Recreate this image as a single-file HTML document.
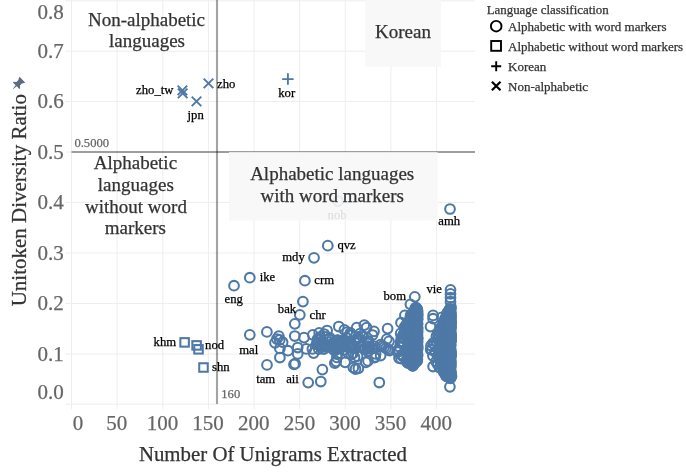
<!DOCTYPE html>
<html lang="en"><head><meta charset="utf-8"><title>Unitoken Diversity Ratio vs Number Of Unigrams Extracted</title>
<style>html,body{margin:0;padding:0;background:#fff}body{width:686px;height:473px;overflow:hidden}svg{display:block}text{font-family:"Liberation Serif","Times New Roman",serif;stroke-width:0.25px}.lb{stroke:#000}.lg,.an,.ti{stroke:#333}.tk,.rf{stroke:#666}.tk{font-size:21px;fill:#666}.ti{font-size:20.9px;fill:#333}.an{font-size:19px;fill:#333;text-anchor:middle}.lb{font-size:12.7px;fill:#000}.lg{font-size:12.9px;fill:#333}.rf{font-size:12.6px;fill:#666}.g line{stroke:#eee;stroke-width:1}.m{fill:none;stroke:#4e79a7;stroke-width:2.05}</style></head><body>
<svg width="686" height="473" viewBox="0 0 686 473">
<rect width="686" height="473" fill="#fff"/>
<g class="g">
<line x1="71.5" y1="0" x2="71.5" y2="409"/>
<line x1="117.1" y1="0" x2="117.1" y2="409"/>
<line x1="162.8" y1="0" x2="162.8" y2="409"/>
<line x1="208.4" y1="0" x2="208.4" y2="409"/>
<line x1="254.0" y1="0" x2="254.0" y2="409"/>
<line x1="299.7" y1="0" x2="299.7" y2="409"/>
<line x1="345.3" y1="0" x2="345.3" y2="409"/>
<line x1="390.9" y1="0" x2="390.9" y2="409"/>
<line x1="436.6" y1="0" x2="436.6" y2="409"/>
<line x1="65.5" y1="0.8" x2="475" y2="0.8"/>
<line x1="65.5" y1="51.2" x2="475" y2="51.2"/>
<line x1="65.5" y1="101.5" x2="475" y2="101.5"/>
<line x1="65.5" y1="152.0" x2="475" y2="152.0"/>
<line x1="65.5" y1="202.4" x2="475" y2="202.4"/>
<line x1="65.5" y1="253.0" x2="475" y2="253.0"/>
<line x1="65.5" y1="303.5" x2="475" y2="303.5"/>
<line x1="65.5" y1="354.1" x2="475" y2="354.1"/>
<line x1="65.5" y1="404.2" x2="475" y2="404.2"/>
</g>
<line x1="217" y1="0" x2="217" y2="404" stroke="#000" stroke-opacity="0.36" stroke-width="2.1"/>
<line x1="71.5" y1="152" x2="475" y2="152" stroke="#000" stroke-opacity="0.36" stroke-width="2"/>
<circle class="m" cx="338" cy="201.1" r="4.85"/>
<text class="lb" x="327.6" y="218.9">nob</text>
<rect x="365.1" y="0" width="75.9" height="66.7" fill="#f7f7f7" fill-opacity="0.9"/>
<rect x="229" y="152.1" width="208.6" height="68.5" fill="#f7f7f7" fill-opacity="0.9"/>
<text class="an" x="146.5" y="25.7">Non-alphabetic</text>
<text class="an" x="147" y="47.3">languages</text>
<text class="an" x="403" y="38.3">Korean</text>
<text class="an" x="332.2" y="179.6">Alphabetic languages</text>
<text class="an" x="332.2" y="201.8">with word markers</text>
<text class="an" x="135.4" y="168.8">Alphabetic</text>
<text class="an" x="135.8" y="190.5">languages</text>
<text class="an" x="136" y="212.5">without word</text>
<text class="an" x="135.4" y="234.4">markers</text>
<text class="rf" x="74.4" y="146.5">0.5000</text>
<text class="rf" x="221.3" y="398.4">160</text>
<g class="m">
<circle cx="234.0" cy="285.7" r="4.85"/>
<circle cx="249.8" cy="277.7" r="4.85"/>
<circle cx="314.0" cy="257.8" r="4.85"/>
<circle cx="327.8" cy="245.7" r="4.85"/>
<circle cx="304.9" cy="280.7" r="4.85"/>
<circle cx="302.9" cy="301.6" r="4.85"/>
<circle cx="299.8" cy="314.8" r="4.85"/>
<circle cx="294.8" cy="323.8" r="4.85"/>
<circle cx="249.8" cy="334.8" r="4.85"/>
<circle cx="266.9" cy="331.9" r="4.85"/>
<circle cx="294.8" cy="336.0" r="4.85"/>
<circle cx="304.0" cy="337.6" r="4.85"/>
<circle cx="278.8" cy="336.1" r="4.85"/>
<circle cx="276.9" cy="339.0" r="4.85"/>
<circle cx="279.7" cy="339.9" r="4.85"/>
<circle cx="275.0" cy="342.8" r="4.85"/>
<circle cx="282.6" cy="342.2" r="4.85"/>
<circle cx="279.9" cy="348.4" r="4.85"/>
<circle cx="288.0" cy="350.7" r="4.85"/>
<circle cx="297.7" cy="347.5" r="4.85"/>
<circle cx="297.7" cy="353.9" r="4.85"/>
<circle cx="279.9" cy="357.5" r="4.85"/>
<circle cx="306.3" cy="348.9" r="4.85"/>
<circle cx="312.4" cy="348.9" r="4.85"/>
<circle cx="267.0" cy="364.9" r="4.85"/>
<circle cx="294.0" cy="364.4" r="4.85"/>
<circle cx="295.1" cy="363.7" r="4.85"/>
<circle cx="308.2" cy="382.6" r="4.85"/>
<circle cx="320.8" cy="381.5" r="4.85"/>
<circle cx="322.4" cy="369.6" r="4.85"/>
<circle cx="379.3" cy="382.5" r="4.85"/>
<circle cx="450.0" cy="209.0" r="4.85"/>
<circle cx="338.8" cy="326.5" r="4.85"/>
<circle cx="356.7" cy="327.6" r="4.85"/>
<circle cx="364.3" cy="325.1" r="4.85"/>
<circle cx="366.6" cy="327.6" r="4.85"/>
<circle cx="374.0" cy="331.3" r="4.85"/>
<circle cx="327.1" cy="330.5" r="4.85"/>
<circle cx="319.2" cy="332.8" r="4.85"/>
<circle cx="312.8" cy="334.8" r="4.85"/>
<circle cx="344.4" cy="329.8" r="4.85"/>
<circle cx="347.3" cy="332.0" r="4.85"/>
<circle cx="358.4" cy="337.2" r="4.85"/>
<circle cx="372.5" cy="335.0" r="4.85"/>
<circle cx="334.8" cy="363.1" r="4.85"/>
<circle cx="336.2" cy="361.6" r="4.85"/>
<circle cx="345.1" cy="362.3" r="4.85"/>
<circle cx="353.3" cy="367.5" r="4.85"/>
<circle cx="355.5" cy="369.0" r="4.85"/>
<circle cx="358.4" cy="368.3" r="4.85"/>
<circle cx="380.6" cy="355.6" r="4.85"/>
<circle cx="365.8" cy="362.3" r="4.85"/>
<circle cx="368.0" cy="360.9" r="4.85"/>
<circle cx="313.6" cy="353.1" r="4.85"/>
<circle cx="380.6" cy="344.6" r="4.85"/>
<circle cx="382.4" cy="345.8" r="4.85"/>
<circle cx="384.2" cy="347.0" r="4.85"/>
<circle cx="386.0" cy="348.2" r="4.85"/>
<circle cx="387.8" cy="349.4" r="4.85"/>
<circle cx="389.5" cy="350.5" r="4.85"/>
<circle cx="386.8" cy="339.1" r="4.85"/>
<circle cx="389.0" cy="341.3" r="4.85"/>
<circle cx="414.8" cy="296.8" r="4.85"/>
<circle cx="410.4" cy="304.3" r="4.85"/>
<circle cx="404.9" cy="315.4" r="4.85"/>
<circle cx="401.0" cy="322.7" r="4.85"/>
<circle cx="387.6" cy="328.6" r="4.85"/>
<circle cx="450.5" cy="289.8" r="4.85"/>
<circle cx="450.5" cy="293.8" r="4.85"/>
<circle cx="450.5" cy="297.7" r="4.85"/>
<circle cx="450.5" cy="301.7" r="4.85"/>
<circle cx="433.1" cy="315.4" r="4.85"/>
<circle cx="433.1" cy="318.7" r="4.85"/>
<circle cx="430.5" cy="326.6" r="4.85"/>
<circle cx="441.7" cy="317.4" r="4.85"/>
<circle cx="449.9" cy="386.8" r="4.85"/>
<circle cx="445.6" cy="375.0" r="4.85"/>
<circle cx="451.5" cy="376.3" r="4.85"/>
<circle cx="433.1" cy="366.5" r="4.85"/>
<circle cx="412.8" cy="365.8" r="4.85"/>
<circle cx="412.8" cy="363.2" r="4.85"/>
<circle cx="399.0" cy="358.0" r="4.85"/>
<circle cx="401.0" cy="358.6" r="4.85"/>
<circle cx="334.8" cy="350.6" r="4.85"/>
<circle cx="347.7" cy="343.5" r="4.85"/>
<circle cx="346.0" cy="346.7" r="4.85"/>
<circle cx="317.3" cy="342.7" r="4.85"/>
<circle cx="320.5" cy="346.0" r="4.85"/>
<circle cx="340.9" cy="346.6" r="4.85"/>
<circle cx="328.6" cy="342.0" r="4.85"/>
<circle cx="353.3" cy="353.2" r="4.85"/>
<circle cx="339.2" cy="342.2" r="4.85"/>
<circle cx="374.6" cy="357.5" r="4.85"/>
<circle cx="332.7" cy="348.8" r="4.85"/>
<circle cx="323.8" cy="349.2" r="4.85"/>
<circle cx="364.8" cy="348.8" r="4.85"/>
<circle cx="326.0" cy="336.8" r="4.85"/>
<circle cx="337.7" cy="340.4" r="4.85"/>
<circle cx="348.4" cy="347.1" r="4.85"/>
<circle cx="327.6" cy="345.9" r="4.85"/>
<circle cx="356.5" cy="339.9" r="4.85"/>
<circle cx="350.7" cy="347.5" r="4.85"/>
<circle cx="342.6" cy="341.4" r="4.85"/>
<circle cx="357.6" cy="356.2" r="4.85"/>
<circle cx="329.9" cy="337.8" r="4.85"/>
<circle cx="368.4" cy="341.4" r="4.85"/>
<circle cx="359.5" cy="340.6" r="4.85"/>
<circle cx="340.5" cy="345.2" r="4.85"/>
<circle cx="344.8" cy="341.2" r="4.85"/>
<circle cx="317.4" cy="339.5" r="4.85"/>
<circle cx="350.0" cy="335.2" r="4.85"/>
<circle cx="368.4" cy="341.0" r="4.85"/>
<circle cx="351.3" cy="354.4" r="4.85"/>
<circle cx="350.4" cy="332.8" r="4.85"/>
<circle cx="372.6" cy="348.4" r="4.85"/>
<circle cx="343.9" cy="343.8" r="4.85"/>
<circle cx="357.8" cy="343.0" r="4.85"/>
<circle cx="354.5" cy="357.2" r="4.85"/>
<circle cx="332.4" cy="344.5" r="4.85"/>
<circle cx="338.5" cy="344.3" r="4.85"/>
<circle cx="343.2" cy="343.8" r="4.85"/>
<circle cx="325.3" cy="346.7" r="4.85"/>
<circle cx="361.9" cy="346.5" r="4.85"/>
<circle cx="322.9" cy="345.1" r="4.85"/>
<circle cx="368.2" cy="351.6" r="4.85"/>
<circle cx="319.9" cy="337.1" r="4.85"/>
<circle cx="368.9" cy="347.6" r="4.85"/>
<circle cx="365.0" cy="348.5" r="4.85"/>
<circle cx="340.3" cy="341.0" r="4.85"/>
<circle cx="336.9" cy="357.4" r="4.85"/>
<circle cx="324.2" cy="334.0" r="4.85"/>
<circle cx="325.7" cy="345.5" r="4.85"/>
<circle cx="344.6" cy="349.8" r="4.85"/>
<circle cx="350.9" cy="345.0" r="4.85"/>
<circle cx="340.6" cy="345.6" r="4.85"/>
<circle cx="357.1" cy="338.4" r="4.85"/>
<circle cx="346.4" cy="337.7" r="4.85"/>
<circle cx="318.3" cy="338.3" r="4.85"/>
<circle cx="369.9" cy="347.5" r="4.85"/>
<circle cx="338.9" cy="342.5" r="4.85"/>
<circle cx="353.7" cy="346.8" r="4.85"/>
<circle cx="318.8" cy="349.1" r="4.85"/>
<circle cx="324.9" cy="346.9" r="4.85"/>
<circle cx="335.7" cy="345.1" r="4.85"/>
<circle cx="324.2" cy="345.0" r="4.85"/>
<circle cx="321.2" cy="344.0" r="4.85"/>
<circle cx="368.3" cy="346.1" r="4.85"/>
<circle cx="352.5" cy="348.0" r="4.85"/>
<circle cx="336.2" cy="349.0" r="4.85"/>
<circle cx="337.2" cy="354.2" r="4.85"/>
<circle cx="375.6" cy="353.9" r="4.85"/>
<circle cx="343.4" cy="342.2" r="4.85"/>
<circle cx="321.2" cy="345.3" r="4.85"/>
<circle cx="335.9" cy="343.9" r="4.85"/>
<circle cx="323.9" cy="342.5" r="4.85"/>
<circle cx="348.1" cy="353.0" r="4.85"/>
<circle cx="374.7" cy="346.4" r="4.85"/>
<circle cx="367.7" cy="343.3" r="4.85"/>
<circle cx="337.4" cy="340.2" r="4.85"/>
<circle cx="325.2" cy="346.1" r="4.85"/>
<circle cx="362.5" cy="336.9" r="4.85"/>
<circle cx="335.1" cy="347.0" r="4.85"/>
<circle cx="375.1" cy="356.9" r="4.85"/>
<circle cx="367.0" cy="349.2" r="4.85"/>
<circle cx="360.1" cy="333.6" r="4.85"/>
<circle cx="328.8" cy="338.9" r="4.85"/>
<circle cx="316.8" cy="344.3" r="4.85"/>
<circle cx="316.7" cy="344.1" r="4.85"/>
<circle cx="411.1" cy="364.0" r="4.85"/>
<circle cx="415.5" cy="356.1" r="4.85"/>
<circle cx="410.3" cy="353.4" r="4.85"/>
<circle cx="412.3" cy="331.5" r="4.85"/>
<circle cx="417.0" cy="325.9" r="4.85"/>
<circle cx="416.5" cy="348.3" r="4.85"/>
<circle cx="417.2" cy="343.7" r="4.85"/>
<circle cx="417.0" cy="343.2" r="4.85"/>
<circle cx="413.9" cy="313.4" r="4.85"/>
<circle cx="415.7" cy="323.1" r="4.85"/>
<circle cx="415.9" cy="333.1" r="4.85"/>
<circle cx="408.2" cy="352.3" r="4.85"/>
<circle cx="412.8" cy="333.5" r="4.85"/>
<circle cx="412.5" cy="361.0" r="4.85"/>
<circle cx="415.0" cy="363.1" r="4.85"/>
<circle cx="409.7" cy="333.8" r="4.85"/>
<circle cx="412.9" cy="317.4" r="4.85"/>
<circle cx="408.5" cy="346.6" r="4.85"/>
<circle cx="412.0" cy="336.5" r="4.85"/>
<circle cx="413.8" cy="328.4" r="4.85"/>
<circle cx="414.1" cy="325.7" r="4.85"/>
<circle cx="414.1" cy="347.1" r="4.85"/>
<circle cx="414.3" cy="358.2" r="4.85"/>
<circle cx="400.7" cy="333.3" r="4.85"/>
<circle cx="415.0" cy="325.5" r="4.85"/>
<circle cx="417.3" cy="309.2" r="4.85"/>
<circle cx="415.3" cy="341.7" r="4.85"/>
<circle cx="410.9" cy="346.1" r="4.85"/>
<circle cx="412.3" cy="333.2" r="4.85"/>
<circle cx="417.1" cy="332.6" r="4.85"/>
<circle cx="409.5" cy="342.7" r="4.85"/>
<circle cx="402.9" cy="337.6" r="4.85"/>
<circle cx="411.1" cy="344.9" r="4.85"/>
<circle cx="416.5" cy="313.3" r="4.85"/>
<circle cx="415.2" cy="346.8" r="4.85"/>
<circle cx="415.4" cy="332.1" r="4.85"/>
<circle cx="403.2" cy="356.1" r="4.85"/>
<circle cx="412.3" cy="356.1" r="4.85"/>
<circle cx="417.6" cy="339.1" r="4.85"/>
<circle cx="416.2" cy="316.0" r="4.85"/>
<circle cx="416.7" cy="359.1" r="4.85"/>
<circle cx="408.1" cy="347.9" r="4.85"/>
<circle cx="410.1" cy="318.5" r="4.85"/>
<circle cx="416.1" cy="307.7" r="4.85"/>
<circle cx="417.1" cy="316.7" r="4.85"/>
<circle cx="415.6" cy="332.8" r="4.85"/>
<circle cx="412.3" cy="327.1" r="4.85"/>
<circle cx="414.7" cy="313.7" r="4.85"/>
<circle cx="416.6" cy="356.7" r="4.85"/>
<circle cx="415.4" cy="331.2" r="4.85"/>
<circle cx="406.1" cy="336.5" r="4.85"/>
<circle cx="410.1" cy="319.7" r="4.85"/>
<circle cx="408.8" cy="325.4" r="4.85"/>
<circle cx="415.1" cy="331.3" r="4.85"/>
<circle cx="410.7" cy="327.6" r="4.85"/>
<circle cx="410.6" cy="361.9" r="4.85"/>
<circle cx="412.1" cy="333.3" r="4.85"/>
<circle cx="417.0" cy="320.2" r="4.85"/>
<circle cx="410.5" cy="363.5" r="4.85"/>
<circle cx="416.8" cy="313.1" r="4.85"/>
<circle cx="413.8" cy="354.9" r="4.85"/>
<circle cx="415.9" cy="312.1" r="4.85"/>
<circle cx="413.6" cy="351.1" r="4.85"/>
<circle cx="406.9" cy="362.1" r="4.85"/>
<circle cx="412.8" cy="340.3" r="4.85"/>
<circle cx="411.5" cy="329.4" r="4.85"/>
<circle cx="414.8" cy="329.5" r="4.85"/>
<circle cx="412.9" cy="363.3" r="4.85"/>
<circle cx="409.1" cy="341.2" r="4.85"/>
<circle cx="408.1" cy="342.5" r="4.85"/>
<circle cx="415.1" cy="330.3" r="4.85"/>
<circle cx="404.3" cy="333.3" r="4.85"/>
<circle cx="416.9" cy="312.4" r="4.85"/>
<circle cx="407.4" cy="325.1" r="4.85"/>
<circle cx="413.0" cy="330.2" r="4.85"/>
<circle cx="415.9" cy="313.2" r="4.85"/>
<circle cx="410.8" cy="359.9" r="4.85"/>
<circle cx="417.4" cy="338.3" r="4.85"/>
<circle cx="412.6" cy="329.1" r="4.85"/>
<circle cx="408.9" cy="344.1" r="4.85"/>
<circle cx="415.4" cy="308.0" r="4.85"/>
<circle cx="414.9" cy="352.2" r="4.85"/>
<circle cx="407.7" cy="326.6" r="4.85"/>
<circle cx="397.7" cy="352.0" r="4.85"/>
<circle cx="408.1" cy="363.0" r="4.85"/>
<circle cx="410.0" cy="354.3" r="4.85"/>
<circle cx="415.3" cy="352.2" r="4.85"/>
<circle cx="413.1" cy="334.6" r="4.85"/>
<circle cx="417.2" cy="330.9" r="4.85"/>
<circle cx="411.2" cy="357.3" r="4.85"/>
<circle cx="411.8" cy="337.8" r="4.85"/>
<circle cx="401.0" cy="341.3" r="4.85"/>
<circle cx="415.7" cy="308.8" r="4.85"/>
<circle cx="414.4" cy="354.2" r="4.85"/>
<circle cx="413.9" cy="341.9" r="4.85"/>
<circle cx="411.6" cy="324.0" r="4.85"/>
<circle cx="416.8" cy="333.3" r="4.85"/>
<circle cx="411.4" cy="335.6" r="4.85"/>
<circle cx="412.6" cy="365.5" r="4.85"/>
<circle cx="413.1" cy="341.7" r="4.85"/>
<circle cx="415.2" cy="315.2" r="4.85"/>
<circle cx="403.4" cy="334.5" r="4.85"/>
<circle cx="413.3" cy="348.9" r="4.85"/>
<circle cx="400.6" cy="342.4" r="4.85"/>
<circle cx="412.1" cy="360.7" r="4.85"/>
<circle cx="410.8" cy="342.6" r="4.85"/>
<circle cx="403.1" cy="341.7" r="4.85"/>
<circle cx="410.7" cy="362.3" r="4.85"/>
<circle cx="410.3" cy="351.9" r="4.85"/>
<circle cx="416.3" cy="334.3" r="4.85"/>
<circle cx="416.3" cy="334.8" r="4.85"/>
<circle cx="413.4" cy="325.7" r="4.85"/>
<circle cx="414.4" cy="317.2" r="4.85"/>
<circle cx="416.6" cy="343.6" r="4.85"/>
<circle cx="412.9" cy="322.6" r="4.85"/>
<circle cx="415.6" cy="352.8" r="4.85"/>
<circle cx="415.3" cy="340.4" r="4.85"/>
<circle cx="415.1" cy="336.7" r="4.85"/>
<circle cx="414.2" cy="324.5" r="4.85"/>
<circle cx="410.9" cy="362.3" r="4.85"/>
<circle cx="417.2" cy="333.7" r="4.85"/>
<circle cx="412.8" cy="313.3" r="4.85"/>
<circle cx="417.1" cy="343.5" r="4.85"/>
<circle cx="415.7" cy="340.6" r="4.85"/>
<circle cx="406.2" cy="350.9" r="4.85"/>
<circle cx="415.8" cy="343.6" r="4.85"/>
<circle cx="413.9" cy="352.5" r="4.85"/>
<circle cx="414.6" cy="348.6" r="4.85"/>
<circle cx="410.2" cy="354.6" r="4.85"/>
<circle cx="414.7" cy="332.1" r="4.85"/>
<circle cx="416.4" cy="352.4" r="4.85"/>
<circle cx="411.3" cy="355.3" r="4.85"/>
<circle cx="415.2" cy="324.6" r="4.85"/>
<circle cx="413.6" cy="358.0" r="4.85"/>
<circle cx="410.9" cy="361.1" r="4.85"/>
<circle cx="412.3" cy="352.8" r="4.85"/>
<circle cx="415.2" cy="334.5" r="4.85"/>
<circle cx="403.8" cy="334.3" r="4.85"/>
<circle cx="416.5" cy="360.9" r="4.85"/>
<circle cx="409.1" cy="326.0" r="4.85"/>
<circle cx="416.7" cy="316.5" r="4.85"/>
<circle cx="404.8" cy="329.5" r="4.85"/>
<circle cx="415.3" cy="308.5" r="4.85"/>
<circle cx="409.8" cy="329.8" r="4.85"/>
<circle cx="413.9" cy="331.5" r="4.85"/>
<circle cx="411.6" cy="336.6" r="4.85"/>
<circle cx="414.9" cy="317.1" r="4.85"/>
<circle cx="413.5" cy="322.2" r="4.85"/>
<circle cx="409.3" cy="332.7" r="4.85"/>
<circle cx="413.6" cy="338.6" r="4.85"/>
<circle cx="413.7" cy="357.9" r="4.85"/>
<circle cx="401.8" cy="354.6" r="4.85"/>
<circle cx="407.5" cy="346.8" r="4.85"/>
<circle cx="414.8" cy="347.8" r="4.85"/>
<circle cx="412.9" cy="322.0" r="4.85"/>
<circle cx="416.6" cy="318.6" r="4.85"/>
<circle cx="416.7" cy="333.9" r="4.85"/>
<circle cx="406.3" cy="335.3" r="4.85"/>
<circle cx="414.9" cy="328.9" r="4.85"/>
<circle cx="414.4" cy="354.8" r="4.85"/>
<circle cx="407.0" cy="329.2" r="4.85"/>
<circle cx="416.7" cy="312.9" r="4.85"/>
<circle cx="413.9" cy="333.9" r="4.85"/>
<circle cx="417.4" cy="359.4" r="4.85"/>
<circle cx="409.8" cy="340.0" r="4.85"/>
<circle cx="417.5" cy="342.3" r="4.85"/>
<circle cx="414.3" cy="338.9" r="4.85"/>
<circle cx="417.5" cy="338.1" r="4.85"/>
<circle cx="416.7" cy="328.9" r="4.85"/>
<circle cx="413.7" cy="319.7" r="4.85"/>
<circle cx="406.7" cy="352.9" r="4.85"/>
<circle cx="417.0" cy="318.8" r="4.85"/>
<circle cx="413.9" cy="322.9" r="4.85"/>
<circle cx="399.8" cy="347.0" r="4.85"/>
<circle cx="402.2" cy="355.8" r="4.85"/>
<circle cx="416.6" cy="333.3" r="4.85"/>
<circle cx="407.3" cy="335.9" r="4.85"/>
<circle cx="403.3" cy="344.1" r="4.85"/>
<circle cx="410.8" cy="344.1" r="4.85"/>
<circle cx="415.8" cy="348.9" r="4.85"/>
<circle cx="411.6" cy="316.3" r="4.85"/>
<circle cx="410.9" cy="322.7" r="4.85"/>
<circle cx="414.1" cy="351.8" r="4.85"/>
<circle cx="399.2" cy="350.8" r="4.85"/>
<circle cx="411.3" cy="353.8" r="4.85"/>
<circle cx="410.6" cy="315.2" r="4.85"/>
<circle cx="414.3" cy="362.0" r="4.85"/>
<circle cx="416.4" cy="332.6" r="4.85"/>
<circle cx="414.5" cy="352.5" r="4.85"/>
<circle cx="408.4" cy="322.7" r="4.85"/>
<circle cx="417.0" cy="360.8" r="4.85"/>
<circle cx="416.6" cy="331.7" r="4.85"/>
<circle cx="401.3" cy="337.9" r="4.85"/>
<circle cx="407.3" cy="339.0" r="4.85"/>
<circle cx="414.7" cy="336.4" r="4.85"/>
<circle cx="408.4" cy="351.7" r="4.85"/>
<circle cx="414.9" cy="310.4" r="4.85"/>
<circle cx="408.1" cy="353.6" r="4.85"/>
<circle cx="416.0" cy="344.9" r="4.85"/>
<circle cx="413.8" cy="345.2" r="4.85"/>
<circle cx="415.4" cy="339.1" r="4.85"/>
<circle cx="414.9" cy="362.8" r="4.85"/>
<circle cx="408.1" cy="326.6" r="4.85"/>
<circle cx="406.7" cy="324.0" r="4.85"/>
<circle cx="415.0" cy="322.2" r="4.85"/>
<circle cx="410.0" cy="361.8" r="4.85"/>
<circle cx="411.8" cy="321.4" r="4.85"/>
<circle cx="410.4" cy="339.9" r="4.85"/>
<circle cx="412.6" cy="351.8" r="4.85"/>
<circle cx="412.8" cy="365.5" r="4.85"/>
<circle cx="410.3" cy="351.6" r="4.85"/>
<circle cx="417.4" cy="314.5" r="4.85"/>
<circle cx="415.9" cy="310.0" r="4.85"/>
<circle cx="413.4" cy="330.3" r="4.85"/>
<circle cx="413.9" cy="318.2" r="4.85"/>
<circle cx="406.7" cy="359.6" r="4.85"/>
<circle cx="410.9" cy="339.6" r="4.85"/>
<circle cx="408.7" cy="359.0" r="4.85"/>
<circle cx="417.5" cy="319.2" r="4.85"/>
<circle cx="415.7" cy="309.3" r="4.85"/>
<circle cx="411.9" cy="317.6" r="4.85"/>
<circle cx="411.6" cy="326.2" r="4.85"/>
<circle cx="404.6" cy="326.9" r="4.85"/>
<circle cx="416.0" cy="316.3" r="4.85"/>
<circle cx="412.2" cy="357.0" r="4.85"/>
<circle cx="409.8" cy="349.5" r="4.85"/>
<circle cx="409.4" cy="345.0" r="4.85"/>
<circle cx="409.8" cy="335.9" r="4.85"/>
<circle cx="416.1" cy="335.0" r="4.85"/>
<circle cx="407.6" cy="354.3" r="4.85"/>
<circle cx="417.0" cy="351.7" r="4.85"/>
<circle cx="417.3" cy="342.3" r="4.85"/>
<circle cx="417.6" cy="355.5" r="4.85"/>
<circle cx="417.6" cy="311.2" r="4.85"/>
<circle cx="417.2" cy="352.3" r="4.85"/>
<circle cx="417.6" cy="315.4" r="4.85"/>
<circle cx="417.0" cy="322.1" r="4.85"/>
<circle cx="417.0" cy="327.5" r="4.85"/>
<circle cx="417.5" cy="336.1" r="4.85"/>
<circle cx="417.3" cy="313.6" r="4.85"/>
<circle cx="417.2" cy="360.8" r="4.85"/>
<circle cx="417.5" cy="332.4" r="4.85"/>
<circle cx="417.3" cy="350.5" r="4.85"/>
<circle cx="417.5" cy="316.8" r="4.85"/>
<circle cx="417.4" cy="328.1" r="4.85"/>
<circle cx="417.3" cy="321.4" r="4.85"/>
<circle cx="417.2" cy="326.7" r="4.85"/>
<circle cx="417.2" cy="309.9" r="4.85"/>
<circle cx="417.1" cy="338.7" r="4.85"/>
<circle cx="416.9" cy="318.3" r="4.85"/>
<circle cx="417.5" cy="323.3" r="4.85"/>
<circle cx="417.2" cy="321.6" r="4.85"/>
<circle cx="417.6" cy="313.7" r="4.85"/>
<circle cx="417.4" cy="353.7" r="4.85"/>
<circle cx="417.1" cy="331.0" r="4.85"/>
<circle cx="417.5" cy="341.1" r="4.85"/>
<circle cx="417.2" cy="311.3" r="4.85"/>
<circle cx="417.3" cy="328.1" r="4.85"/>
<circle cx="417.5" cy="324.4" r="4.85"/>
<circle cx="417.2" cy="342.7" r="4.85"/>
<circle cx="417.5" cy="327.3" r="4.85"/>
<circle cx="417.2" cy="339.1" r="4.85"/>
<circle cx="417.6" cy="319.0" r="4.85"/>
<circle cx="417.7" cy="346.0" r="4.85"/>
<circle cx="417.2" cy="343.6" r="4.85"/>
<circle cx="417.2" cy="312.7" r="4.85"/>
<circle cx="417.5" cy="328.7" r="4.85"/>
<circle cx="417.3" cy="334.8" r="4.85"/>
<circle cx="417.6" cy="348.4" r="4.85"/>
<circle cx="416.9" cy="339.8" r="4.85"/>
<circle cx="417.3" cy="333.0" r="4.85"/>
<circle cx="417.6" cy="330.6" r="4.85"/>
<circle cx="417.3" cy="355.3" r="4.85"/>
<circle cx="417.3" cy="334.5" r="4.85"/>
<circle cx="417.3" cy="351.9" r="4.85"/>
<circle cx="417.4" cy="347.5" r="4.85"/>
<circle cx="417.2" cy="311.1" r="4.85"/>
<circle cx="417.4" cy="337.8" r="4.85"/>
<circle cx="417.5" cy="349.0" r="4.85"/>
<circle cx="417.0" cy="320.5" r="4.85"/>
<circle cx="447.1" cy="370.0" r="4.85"/>
<circle cx="436.7" cy="342.4" r="4.85"/>
<circle cx="450.8" cy="323.4" r="4.85"/>
<circle cx="446.7" cy="368.8" r="4.85"/>
<circle cx="449.3" cy="345.8" r="4.85"/>
<circle cx="449.9" cy="334.3" r="4.85"/>
<circle cx="434.3" cy="344.6" r="4.85"/>
<circle cx="449.7" cy="343.1" r="4.85"/>
<circle cx="449.5" cy="309.3" r="4.85"/>
<circle cx="448.1" cy="348.6" r="4.85"/>
<circle cx="448.7" cy="367.9" r="4.85"/>
<circle cx="431.0" cy="345.6" r="4.85"/>
<circle cx="449.7" cy="327.9" r="4.85"/>
<circle cx="448.3" cy="339.5" r="4.85"/>
<circle cx="440.2" cy="343.8" r="4.85"/>
<circle cx="440.4" cy="330.6" r="4.85"/>
<circle cx="438.4" cy="333.8" r="4.85"/>
<circle cx="449.0" cy="360.6" r="4.85"/>
<circle cx="444.0" cy="360.2" r="4.85"/>
<circle cx="446.4" cy="369.9" r="4.85"/>
<circle cx="447.3" cy="333.7" r="4.85"/>
<circle cx="443.5" cy="367.2" r="4.85"/>
<circle cx="442.5" cy="337.7" r="4.85"/>
<circle cx="442.8" cy="324.8" r="4.85"/>
<circle cx="443.7" cy="365.0" r="4.85"/>
<circle cx="450.8" cy="316.8" r="4.85"/>
<circle cx="433.0" cy="343.1" r="4.85"/>
<circle cx="446.9" cy="321.6" r="4.85"/>
<circle cx="448.7" cy="354.0" r="4.85"/>
<circle cx="449.0" cy="340.9" r="4.85"/>
<circle cx="444.2" cy="345.5" r="4.85"/>
<circle cx="450.5" cy="352.6" r="4.85"/>
<circle cx="444.8" cy="355.9" r="4.85"/>
<circle cx="446.6" cy="329.1" r="4.85"/>
<circle cx="450.3" cy="377.0" r="4.85"/>
<circle cx="436.4" cy="336.2" r="4.85"/>
<circle cx="450.2" cy="322.8" r="4.85"/>
<circle cx="443.2" cy="362.7" r="4.85"/>
<circle cx="447.3" cy="346.2" r="4.85"/>
<circle cx="449.7" cy="322.7" r="4.85"/>
<circle cx="450.3" cy="351.4" r="4.85"/>
<circle cx="445.5" cy="328.7" r="4.85"/>
<circle cx="446.8" cy="329.3" r="4.85"/>
<circle cx="448.2" cy="343.5" r="4.85"/>
<circle cx="443.9" cy="372.3" r="4.85"/>
<circle cx="447.5" cy="313.8" r="4.85"/>
<circle cx="443.5" cy="370.5" r="4.85"/>
<circle cx="447.2" cy="323.3" r="4.85"/>
<circle cx="450.5" cy="364.6" r="4.85"/>
<circle cx="446.9" cy="343.9" r="4.85"/>
<circle cx="445.1" cy="347.6" r="4.85"/>
<circle cx="440.5" cy="347.9" r="4.85"/>
<circle cx="445.3" cy="342.3" r="4.85"/>
<circle cx="449.3" cy="358.4" r="4.85"/>
<circle cx="448.1" cy="358.3" r="4.85"/>
<circle cx="448.8" cy="364.7" r="4.85"/>
<circle cx="449.1" cy="364.0" r="4.85"/>
<circle cx="441.6" cy="341.6" r="4.85"/>
<circle cx="447.0" cy="367.6" r="4.85"/>
<circle cx="446.4" cy="338.2" r="4.85"/>
<circle cx="448.6" cy="343.7" r="4.85"/>
<circle cx="439.9" cy="351.9" r="4.85"/>
<circle cx="444.4" cy="338.8" r="4.85"/>
<circle cx="449.0" cy="348.7" r="4.85"/>
<circle cx="443.1" cy="359.8" r="4.85"/>
<circle cx="449.5" cy="319.1" r="4.85"/>
<circle cx="447.2" cy="341.2" r="4.85"/>
<circle cx="442.3" cy="364.4" r="4.85"/>
<circle cx="450.5" cy="344.6" r="4.85"/>
<circle cx="436.0" cy="361.5" r="4.85"/>
<circle cx="444.7" cy="321.7" r="4.85"/>
<circle cx="449.5" cy="361.5" r="4.85"/>
<circle cx="450.9" cy="360.7" r="4.85"/>
<circle cx="448.6" cy="364.0" r="4.85"/>
<circle cx="450.3" cy="314.6" r="4.85"/>
<circle cx="450.3" cy="309.0" r="4.85"/>
<circle cx="450.2" cy="352.2" r="4.85"/>
<circle cx="446.8" cy="354.3" r="4.85"/>
<circle cx="443.5" cy="346.4" r="4.85"/>
<circle cx="443.8" cy="367.2" r="4.85"/>
<circle cx="439.4" cy="357.5" r="4.85"/>
<circle cx="449.6" cy="345.3" r="4.85"/>
<circle cx="449.4" cy="338.0" r="4.85"/>
<circle cx="445.4" cy="343.9" r="4.85"/>
<circle cx="445.4" cy="368.9" r="4.85"/>
<circle cx="448.9" cy="316.2" r="4.85"/>
<circle cx="448.0" cy="376.6" r="4.85"/>
<circle cx="449.8" cy="333.8" r="4.85"/>
<circle cx="449.2" cy="310.1" r="4.85"/>
<circle cx="448.2" cy="334.8" r="4.85"/>
<circle cx="447.7" cy="364.9" r="4.85"/>
<circle cx="448.8" cy="377.1" r="4.85"/>
<circle cx="448.9" cy="320.1" r="4.85"/>
<circle cx="438.2" cy="334.8" r="4.85"/>
<circle cx="450.2" cy="361.8" r="4.85"/>
<circle cx="450.3" cy="317.3" r="4.85"/>
<circle cx="441.0" cy="358.6" r="4.85"/>
<circle cx="450.4" cy="313.6" r="4.85"/>
<circle cx="442.9" cy="356.3" r="4.85"/>
<circle cx="446.5" cy="358.8" r="4.85"/>
<circle cx="441.0" cy="358.5" r="4.85"/>
<circle cx="445.1" cy="319.2" r="4.85"/>
<circle cx="448.9" cy="318.0" r="4.85"/>
<circle cx="443.7" cy="322.3" r="4.85"/>
<circle cx="430.7" cy="349.5" r="4.85"/>
<circle cx="449.5" cy="370.4" r="4.85"/>
<circle cx="440.9" cy="362.5" r="4.85"/>
<circle cx="446.1" cy="331.0" r="4.85"/>
<circle cx="449.4" cy="374.8" r="4.85"/>
<circle cx="449.1" cy="312.1" r="4.85"/>
<circle cx="442.8" cy="325.4" r="4.85"/>
<circle cx="445.6" cy="362.1" r="4.85"/>
<circle cx="447.4" cy="315.2" r="4.85"/>
<circle cx="445.9" cy="335.2" r="4.85"/>
<circle cx="448.7" cy="372.5" r="4.85"/>
<circle cx="450.1" cy="349.1" r="4.85"/>
<circle cx="450.8" cy="313.6" r="4.85"/>
<circle cx="447.2" cy="369.3" r="4.85"/>
<circle cx="448.8" cy="376.3" r="4.85"/>
<circle cx="447.7" cy="365.9" r="4.85"/>
<circle cx="449.1" cy="334.0" r="4.85"/>
<circle cx="448.6" cy="360.9" r="4.85"/>
<circle cx="447.6" cy="312.4" r="4.85"/>
<circle cx="444.1" cy="352.9" r="4.85"/>
<circle cx="448.2" cy="344.7" r="4.85"/>
<circle cx="448.2" cy="318.7" r="4.85"/>
<circle cx="446.8" cy="376.4" r="4.85"/>
<circle cx="448.8" cy="359.2" r="4.85"/>
<circle cx="448.3" cy="346.7" r="4.85"/>
<circle cx="447.1" cy="363.5" r="4.85"/>
<circle cx="449.5" cy="317.7" r="4.85"/>
<circle cx="441.6" cy="364.0" r="4.85"/>
<circle cx="449.1" cy="345.0" r="4.85"/>
<circle cx="446.0" cy="321.1" r="4.85"/>
<circle cx="449.8" cy="338.8" r="4.85"/>
<circle cx="449.9" cy="313.3" r="4.85"/>
<circle cx="447.8" cy="363.7" r="4.85"/>
<circle cx="441.3" cy="333.4" r="4.85"/>
<circle cx="443.2" cy="339.2" r="4.85"/>
<circle cx="432.9" cy="355.8" r="4.85"/>
<circle cx="449.1" cy="375.9" r="4.85"/>
<circle cx="448.0" cy="332.1" r="4.85"/>
<circle cx="448.3" cy="360.8" r="4.85"/>
<circle cx="437.7" cy="355.9" r="4.85"/>
<circle cx="446.7" cy="363.3" r="4.85"/>
<circle cx="449.5" cy="350.0" r="4.85"/>
<circle cx="450.8" cy="355.7" r="4.85"/>
<circle cx="449.5" cy="361.0" r="4.85"/>
<circle cx="445.2" cy="352.6" r="4.85"/>
<circle cx="440.1" cy="358.3" r="4.85"/>
<circle cx="443.6" cy="323.7" r="4.85"/>
<circle cx="441.1" cy="359.8" r="4.85"/>
<circle cx="443.2" cy="331.4" r="4.85"/>
<circle cx="445.0" cy="358.9" r="4.85"/>
<circle cx="449.6" cy="316.5" r="4.85"/>
<circle cx="440.3" cy="328.2" r="4.85"/>
<circle cx="449.5" cy="339.0" r="4.85"/>
<circle cx="446.1" cy="351.2" r="4.85"/>
<circle cx="447.9" cy="336.6" r="4.85"/>
<circle cx="449.1" cy="364.8" r="4.85"/>
<circle cx="445.5" cy="320.1" r="4.85"/>
<circle cx="449.9" cy="355.5" r="4.85"/>
<circle cx="449.9" cy="351.5" r="4.85"/>
<circle cx="448.0" cy="354.3" r="4.85"/>
<circle cx="450.8" cy="354.9" r="4.85"/>
<circle cx="450.3" cy="326.4" r="4.85"/>
<circle cx="442.2" cy="366.3" r="4.85"/>
<circle cx="448.4" cy="342.2" r="4.85"/>
<circle cx="450.3" cy="333.6" r="4.85"/>
<circle cx="442.9" cy="353.0" r="4.85"/>
<circle cx="445.1" cy="345.0" r="4.85"/>
<circle cx="448.9" cy="321.9" r="4.85"/>
<circle cx="446.7" cy="314.5" r="4.85"/>
<circle cx="449.6" cy="321.1" r="4.85"/>
<circle cx="444.7" cy="335.4" r="4.85"/>
<circle cx="438.8" cy="353.6" r="4.85"/>
<circle cx="450.8" cy="373.8" r="4.85"/>
<circle cx="440.3" cy="340.1" r="4.85"/>
<circle cx="444.9" cy="364.5" r="4.85"/>
<circle cx="450.5" cy="336.2" r="4.85"/>
<circle cx="446.3" cy="342.4" r="4.85"/>
<circle cx="449.4" cy="341.8" r="4.85"/>
<circle cx="445.3" cy="318.2" r="4.85"/>
<circle cx="443.2" cy="356.1" r="4.85"/>
<circle cx="450.2" cy="342.9" r="4.85"/>
<circle cx="450.3" cy="364.7" r="4.85"/>
<circle cx="445.3" cy="340.0" r="4.85"/>
<circle cx="450.4" cy="316.3" r="4.85"/>
<circle cx="444.0" cy="349.7" r="4.85"/>
<circle cx="447.9" cy="321.0" r="4.85"/>
<circle cx="446.2" cy="367.7" r="4.85"/>
<circle cx="437.8" cy="364.4" r="4.85"/>
<circle cx="450.8" cy="309.1" r="4.85"/>
<circle cx="450.0" cy="330.8" r="4.85"/>
<circle cx="443.6" cy="343.5" r="4.85"/>
<circle cx="443.8" cy="336.8" r="4.85"/>
<circle cx="443.4" cy="356.1" r="4.85"/>
<circle cx="446.3" cy="346.6" r="4.85"/>
<circle cx="445.7" cy="330.4" r="4.85"/>
<circle cx="450.4" cy="366.1" r="4.85"/>
<circle cx="431.8" cy="349.7" r="4.85"/>
<circle cx="449.6" cy="377.8" r="4.85"/>
<circle cx="447.3" cy="342.6" r="4.85"/>
<circle cx="450.8" cy="336.3" r="4.85"/>
<circle cx="445.2" cy="319.8" r="4.85"/>
<circle cx="449.4" cy="345.1" r="4.85"/>
<circle cx="448.0" cy="313.2" r="4.85"/>
<circle cx="445.5" cy="366.8" r="4.85"/>
<circle cx="444.4" cy="332.9" r="4.85"/>
<circle cx="440.5" cy="341.1" r="4.85"/>
<circle cx="445.2" cy="353.3" r="4.85"/>
<circle cx="443.2" cy="339.6" r="4.85"/>
<circle cx="447.4" cy="345.1" r="4.85"/>
<circle cx="444.1" cy="365.6" r="4.85"/>
<circle cx="441.8" cy="344.0" r="4.85"/>
<circle cx="437.5" cy="339.4" r="4.85"/>
<circle cx="443.3" cy="355.9" r="4.85"/>
<circle cx="441.3" cy="359.2" r="4.85"/>
<circle cx="447.5" cy="369.9" r="4.85"/>
<circle cx="446.5" cy="358.4" r="4.85"/>
<circle cx="450.9" cy="318.3" r="4.85"/>
<circle cx="449.9" cy="341.9" r="4.85"/>
<circle cx="448.7" cy="333.8" r="4.85"/>
<circle cx="443.6" cy="353.3" r="4.85"/>
<circle cx="441.2" cy="365.0" r="4.85"/>
<circle cx="448.3" cy="317.8" r="4.85"/>
<circle cx="445.9" cy="323.5" r="4.85"/>
<circle cx="448.8" cy="320.6" r="4.85"/>
<circle cx="449.2" cy="325.6" r="4.85"/>
<circle cx="447.2" cy="334.5" r="4.85"/>
<circle cx="442.1" cy="358.2" r="4.85"/>
<circle cx="435.4" cy="352.1" r="4.85"/>
<circle cx="446.7" cy="340.7" r="4.85"/>
<circle cx="445.0" cy="331.2" r="4.85"/>
<circle cx="446.9" cy="345.5" r="4.85"/>
<circle cx="448.1" cy="315.7" r="4.85"/>
<circle cx="450.1" cy="332.5" r="4.85"/>
<circle cx="439.5" cy="367.5" r="4.85"/>
<circle cx="447.4" cy="370.6" r="4.85"/>
<circle cx="446.4" cy="339.1" r="4.85"/>
<circle cx="447.7" cy="354.2" r="4.85"/>
<circle cx="438.9" cy="331.6" r="4.85"/>
<circle cx="448.0" cy="331.3" r="4.85"/>
<circle cx="450.1" cy="319.8" r="4.85"/>
<circle cx="442.0" cy="341.3" r="4.85"/>
<circle cx="450.8" cy="371.2" r="4.85"/>
<circle cx="446.9" cy="356.2" r="4.85"/>
<circle cx="447.0" cy="314.0" r="4.85"/>
<circle cx="447.0" cy="346.2" r="4.85"/>
<circle cx="449.4" cy="330.9" r="4.85"/>
<circle cx="446.2" cy="336.7" r="4.85"/>
<circle cx="445.8" cy="326.8" r="4.85"/>
<circle cx="442.8" cy="365.1" r="4.85"/>
<circle cx="444.2" cy="371.6" r="4.85"/>
<circle cx="446.6" cy="351.3" r="4.85"/>
<circle cx="450.4" cy="315.6" r="4.85"/>
<circle cx="447.8" cy="362.8" r="4.85"/>
<circle cx="447.5" cy="347.7" r="4.85"/>
<circle cx="448.7" cy="321.3" r="4.85"/>
<circle cx="450.3" cy="350.6" r="4.85"/>
<circle cx="446.3" cy="376.2" r="4.85"/>
<circle cx="446.8" cy="315.6" r="4.85"/>
<circle cx="446.1" cy="375.0" r="4.85"/>
<circle cx="450.7" cy="327.6" r="4.85"/>
<circle cx="449.3" cy="326.5" r="4.85"/>
<circle cx="448.4" cy="314.6" r="4.85"/>
<circle cx="448.3" cy="333.9" r="4.85"/>
<circle cx="440.9" cy="356.6" r="4.85"/>
<circle cx="445.4" cy="318.7" r="4.85"/>
<circle cx="449.7" cy="337.1" r="4.85"/>
<circle cx="450.9" cy="324.2" r="4.85"/>
<circle cx="450.3" cy="312.7" r="4.85"/>
<circle cx="450.5" cy="362.6" r="4.85"/>
<circle cx="450.2" cy="337.4" r="4.85"/>
<circle cx="451.0" cy="341.1" r="4.85"/>
<circle cx="450.4" cy="368.0" r="4.85"/>
<circle cx="450.9" cy="333.2" r="4.85"/>
<circle cx="450.1" cy="352.7" r="4.85"/>
<circle cx="450.7" cy="374.2" r="4.85"/>
<circle cx="450.7" cy="328.1" r="4.85"/>
<circle cx="450.5" cy="326.6" r="4.85"/>
<circle cx="450.4" cy="340.1" r="4.85"/>
<circle cx="450.9" cy="372.9" r="4.85"/>
<circle cx="450.9" cy="340.9" r="4.85"/>
<circle cx="451.0" cy="315.4" r="4.85"/>
<circle cx="450.9" cy="353.0" r="4.85"/>
<circle cx="450.9" cy="336.0" r="4.85"/>
<circle cx="451.0" cy="306.9" r="4.85"/>
<circle cx="450.8" cy="366.5" r="4.85"/>
<circle cx="450.4" cy="367.2" r="4.85"/>
<circle cx="450.2" cy="361.4" r="4.85"/>
<circle cx="450.5" cy="335.8" r="4.85"/>
<circle cx="450.2" cy="365.0" r="4.85"/>
<circle cx="450.7" cy="311.7" r="4.85"/>
<circle cx="451.0" cy="321.6" r="4.85"/>
<circle cx="450.4" cy="336.1" r="4.85"/>
<circle cx="450.6" cy="371.8" r="4.85"/>
<circle cx="450.9" cy="352.5" r="4.85"/>
<circle cx="450.4" cy="313.1" r="4.85"/>
<circle cx="450.1" cy="343.9" r="4.85"/>
<circle cx="450.6" cy="338.5" r="4.85"/>
<circle cx="451.0" cy="336.0" r="4.85"/>
<circle cx="450.4" cy="336.4" r="4.85"/>
<circle cx="450.2" cy="375.4" r="4.85"/>
<circle cx="450.6" cy="345.7" r="4.85"/>
<circle cx="450.4" cy="323.8" r="4.85"/>
<circle cx="450.3" cy="342.0" r="4.85"/>
<circle cx="450.4" cy="378.4" r="4.85"/>
<circle cx="450.6" cy="320.5" r="4.85"/>
<circle cx="450.1" cy="316.9" r="4.85"/>
<circle cx="450.3" cy="363.7" r="4.85"/>
<circle cx="450.9" cy="322.7" r="4.85"/>
<circle cx="450.8" cy="338.1" r="4.85"/>
<circle cx="450.5" cy="345.0" r="4.85"/>
<circle cx="450.0" cy="310.0" r="4.85"/>
<circle cx="450.7" cy="356.7" r="4.85"/>
<circle cx="450.4" cy="373.9" r="4.85"/>
<circle cx="450.8" cy="327.6" r="4.85"/>
<circle cx="450.1" cy="346.5" r="4.85"/>
<circle cx="450.7" cy="321.8" r="4.85"/>
<circle cx="450.0" cy="341.5" r="4.85"/>
<circle cx="450.0" cy="360.3" r="4.85"/>
<circle cx="450.6" cy="325.9" r="4.85"/>
<circle cx="450.4" cy="322.5" r="4.85"/>
<circle cx="450.2" cy="318.6" r="4.85"/>
<circle cx="450.8" cy="339.0" r="4.85"/>
<circle cx="450.7" cy="331.1" r="4.85"/>
<circle cx="450.8" cy="349.7" r="4.85"/>
<circle cx="450.7" cy="334.5" r="4.85"/>
<circle cx="450.6" cy="319.3" r="4.85"/>
<circle cx="451.0" cy="355.4" r="4.85"/>
<circle cx="450.5" cy="352.9" r="4.85"/>
<circle cx="450.1" cy="330.1" r="4.85"/>
<circle cx="450.2" cy="368.2" r="4.85"/>
<circle cx="450.0" cy="338.3" r="4.85"/>
<circle cx="450.9" cy="363.7" r="4.85"/>
<circle cx="450.7" cy="327.6" r="4.85"/>
<circle cx="450.2" cy="357.8" r="4.85"/>
<circle cx="450.3" cy="359.2" r="4.85"/>
<circle cx="450.3" cy="362.0" r="4.85"/>
</g>
<g class="m">
<rect x="180.35" y="338.15" width="8.5" height="8.5"/>
<rect x="192.35" y="341.15" width="8.5" height="8.5"/>
<rect x="194.25" y="345.05" width="8.5" height="8.5"/>
<rect x="199.25" y="363.25" width="8.5" height="8.5"/>
</g>
<path class="m" style="stroke-width:1.9" d="M203.7 78.6L213.3 88.2M203.7 88.2L213.3 78.6M191.7 96.6L201.3 106.2M191.7 106.2L201.3 96.6M177.6 85.6L187.2 95.2M177.6 95.2L187.2 85.6M177.9 88.6L187.5 98.2M177.9 98.2L187.5 88.6"/>
<path class="m" style="stroke-width:1.9" d="M282.15 79.1H293.65M287.9 73.35V84.85"/>
<text class="lb" x="136.1" y="94.2">zho_tw</text>
<text class="lb" x="217.0" y="87.9">zho</text>
<text class="lb" x="187.6" y="119.4">jpn</text>
<text class="lb" x="278.2" y="96.8">kor</text>
<text class="lb" x="438.3" y="225.4">amh</text>
<text class="lb" x="337.4" y="249.3">qvz</text>
<text class="lb" x="282.2" y="261.1">mdy</text>
<text class="lb" x="314.3" y="284.0">crm</text>
<text class="lb" x="259.7" y="281.0">ike</text>
<text class="lb" x="224.5" y="302.5">eng</text>
<text class="lb" x="277.8" y="312.9">bak</text>
<text class="lb" x="309.6" y="318.7">chr</text>
<text class="lb" x="153.6" y="346.3">khm</text>
<text class="lb" x="205.1" y="348.9">nod</text>
<text class="lb" x="212.1" y="371.3">shn</text>
<text class="lb" x="239.2" y="353.5">mal</text>
<text class="lb" x="256.2" y="382.6">tam</text>
<text class="lb" x="286.2" y="382.6">aii</text>
<text class="lb" x="383.5" y="299.7">bom</text>
<text class="lb" x="426.5" y="292.7">vie</text>
<text class="tk" x="37.4" y="18.8">0.8</text>
<text class="tk" x="37.4" y="57.8">0.7</text>
<text class="tk" x="37.4" y="108.1">0.6</text>
<text class="tk" x="37.4" y="158.5">0.5</text>
<text class="tk" x="37.4" y="208.9">0.4</text>
<text class="tk" x="37.4" y="259.5">0.3</text>
<text class="tk" x="37.4" y="310.0">0.2</text>
<text class="tk" x="37.4" y="360.6">0.1</text>
<text class="tk" x="37.4" y="398.5">0.0</text>
<text class="tk" x="72.7" y="430.2">0</text>
<text class="tk" text-anchor="middle" x="116.8" y="430.2">50</text>
<text class="tk" text-anchor="middle" x="162.5" y="430.2">100</text>
<text class="tk" text-anchor="middle" x="208.1" y="430.2">150</text>
<text class="tk" text-anchor="middle" x="253.7" y="430.2">200</text>
<text class="tk" text-anchor="middle" x="299.4" y="430.2">250</text>
<text class="tk" text-anchor="middle" x="345.0" y="430.2">300</text>
<text class="tk" text-anchor="middle" x="390.6" y="430.2">350</text>
<text class="tk" text-anchor="middle" x="436.3" y="430.2">400</text>
<text class="ti" style="font-size:20.85px" text-anchor="middle" x="272.9" y="460.6">Number Of Unigrams Extracted</text>
<text class="ti" style="font-size:21px" text-anchor="middle" transform="translate(26.3 200.2) rotate(-90)">Unitoken Diversity Ratio</text>
<g transform="translate(16.6 85.35) rotate(45)" fill="#5d6b7e"><path d="M-3.95 -8.1H3.95L3.7 -7.1L2.5 -5V-2.2L4.5 -0.5V0.6H0.8L0.25 5H-0.25L-0.8 0.6H-4.5V-0.5L-2.5 -2.2V-5L-3.7 -7.1Z"/></g>
<text class="lg" x="486.7" y="13.8">Language classification</text>
<g fill="none" stroke="#000" stroke-width="1.9">
<circle cx="496.2" cy="26.2" r="5.3"/>
<rect x="491.2" y="41" width="9.8" height="9.8"/>
<path d="M491.2 66.3H501.2M496.2 61.3V71.3"/>
<path stroke-width="2.2" d="M491.9 81.7L500.5 90.3M491.9 90.3L500.5 81.7"/>
</g>
<text class="lg" style="font-size:13px" x="508" y="30.6">Alphabetic with word markers</text>
<text class="lg" style="font-size:13px" x="508" y="50.9">Alphabetic without word markers</text>
<text class="lg" style="font-size:13px" x="508" y="70.8">Korean</text>
<text class="lg" style="font-size:13px" x="508" y="90.6">Non-alphabetic</text>
</svg></body></html>
